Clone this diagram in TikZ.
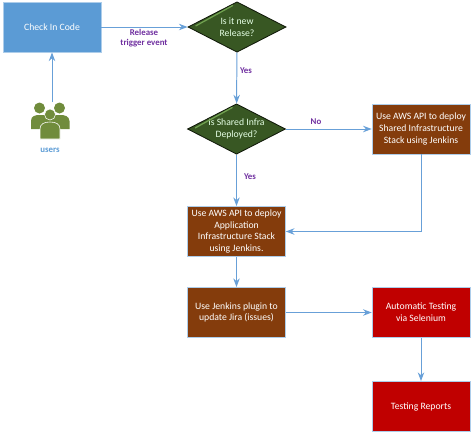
\documentclass[tikz,border=0pt]{standalone}
\usepackage{fontspec}
\setmainfont{Carlito}
\definecolor{flowblue}{RGB}{91,155,213}
\definecolor{linkblue}{RGB}{104,160,216}
\definecolor{deepgreen}{RGB}{56,87,35}
\definecolor{lightgreen}{RGB}{112,160,80}
\definecolor{deepbrown}{RGB}{132,60,12}
\definecolor{deepred}{RGB}{192,0,0}
\definecolor{labelpurple}{RGB}{112,48,160}
\definecolor{usergreen}{RGB}{112,140,60}
\usetikzlibrary{arrows.meta,positioning,shapes.geometric}

\begin{document}
\begin{tikzpicture}[x=0.025cm,y=-0.025cm,>=Stealth,
  box/.style={draw=flowblue!50,minimum width=2.45cm,minimum height=1.26cm,inner sep=1pt,
              align=center,font=\fontsize{6.9}{8.3}\selectfont,text=white},
  decision/.style={diamond,aspect=1.95,draw=black!70!deepgreen,semithick,fill=deepgreen,inner sep=0pt,
              minimum width=2.45cm,minimum height=1.26cm,align=center,
              font=\fontsize{6.9}{8.3}\selectfont,text=white!90!green},
  link/.style={->,draw=linkblue,line width=0.7pt},
  tag/.style={font=\bfseries\fontsize{6.3}{7.6}\selectfont,text=labelpurple,align=center}]
  \useasboundingbox (0,0) rectangle (474,437);
  % top row
  \node[box,fill=flowblue] (code) at (52,27) {Check In Code};
  \node[decision] (release) at (237,27) {Is it new\\Release?};
  % shared infra
  \node[decision] (shared) at (236.5,129) {Is Shared Infra\\Deployed?};
  \node[box,fill=deepbrown] (stack) at (421,129) {Use AWS API to deploy\\Shared Infrastructure\\Stack using Jenkins};
  \node[box,fill=deepbrown] (app) at (236.5,231.5) {Use AWS API to deploy\\Application\\Infrastructure Stack\\using Jenkins.};
  \node[box,fill=deepbrown] (jira) at (236.5,312.5) {Use Jenkins plugin to\\update Jira (issues)};
  % testing
  \node[box,fill=deepred] (selenium) at (421,312.5) {Automatic Testing\\via Selenium};
  \node[box,fill=deepred] (reports) at (421,406.5) {Testing Reports};
  % bevel on the diamonds
  \foreach \d in {release,shared}{
    \draw[lightgreen,line width=0.9pt] ([shift={(8,-1)}]\d.west) -- ([shift={(-4,4)}]\d.north);
  }
  % users icon
  \fill[usergreen] (39.5,108) circle (5.5) (59.5,108) circle (5.5);
  \fill[usergreen] (31,129) -- (31,121) .. controls (31,116) and (35,115) .. (40,115)
    -- (60,115) .. controls (65,115) and (69,116) .. (69.5,121) -- (69.5,129) -- cycle;
  \fill[usergreen,draw=white] (50,114.5) circle (5.5);
  \fill[usergreen,draw=white] (40,139) -- (40,129) .. controls (40,124) and (44,122) .. (50,122)
    .. controls (56,122) and (60,124) .. (60,129) -- (60,139) -- cycle;
  \coordinate (crowd) at (52,102);
  \node[font=\bfseries\fontsize{6.3}{8}\selectfont,text=flowblue] (users) at (50,150) {users};
  % links
  \draw[link] (crowd) -- (code);
  \draw[link] (code) -- (release);
  \draw[link] (release) -- (shared);
  \draw[link] (shared) -- (stack);
  \draw[link] (shared) -- (app);
  \draw[link] (stack.south) |- (app.east);
  \draw[link] (app) -- (jira);
  \draw[link] (jira) -- (selenium);
  \draw[link] (selenium) -- (reports);
  % labels
  \node[tag] (trigger) at (144,38) {Release\\trigger event};
  \node[tag] (yesa) at (246,71) {Yes};
  \node[tag] (no) at (316,122) {No};
  \node[tag] (yesb) at (250,177) {Yes};
\end{tikzpicture}
\end{document}
